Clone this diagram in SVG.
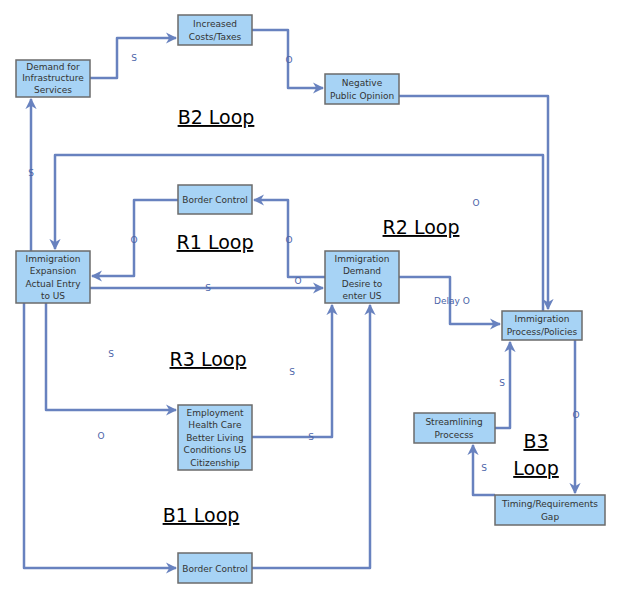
<svg xmlns="http://www.w3.org/2000/svg" width="623" height="600" viewBox="0 0 623 600">
<style>
.n rect{fill:#a7d3f5;stroke:#6b6b6b;stroke-width:1.5}
.n text{font-family:"DejaVu Sans",sans-serif;font-size:9px;fill:#333;text-anchor:middle}
.c path{fill:none;stroke:#6882bf;stroke-width:2.5;stroke-linejoin:round}
.l{font-family:"DejaVu Sans",sans-serif;font-size:9px;fill:#4a64a8;text-anchor:middle}
.loop{font-family:"DejaVu Sans",sans-serif;font-size:19px;fill:#000;text-anchor:middle;text-decoration:underline}
</style>
<defs><marker id="a" viewBox="0 0 10 10" refX="9" refY="5" markerWidth="4.5" markerHeight="4.5" orient="auto" markerUnits="strokeWidth"><path d="M0,0L10,5L0,10L3,5z" fill="#6882bf"/></marker></defs>
<rect width="623" height="600" fill="#fff"/>
<g class="c" marker-end="url(#a)">
<path d="M90,78H117V38H176" marker-end="url(#a)"/>
<path d="M252,30H288V88H323" marker-end="url(#a)"/>
<path d="M399,96H548V309" marker-end="url(#a)"/>
<path d="M543,311V155H55V249" marker-end="url(#a)"/>
<path d="M31,251V99" marker-end="url(#a)"/>
<path d="M178,200H134V276H92" marker-end="url(#a)"/>
<path d="M325,277H288V200H254" marker-end="url(#a)"/>
<path d="M90,288H323" marker-end="url(#a)"/>
<path d="M399,277H450V324H500" marker-end="url(#a)"/>
<path d="M575,340V493" marker-end="url(#a)"/>
<path d="M495,428H510V342" marker-end="url(#a)"/>
<path d="M495,495H473V445" marker-end="url(#a)"/>
<path d="M46,303V410H176" marker-end="url(#a)"/>
<path d="M252,437H332V305" marker-end="url(#a)"/>
<path d="M24,303V568H176" marker-end="url(#a)"/>
<path d="M252,568H370V305" marker-end="url(#a)"/>
</g>
<g id="labels">
<text class="l" x="134" y="61">S</text>
<text class="l" x="289" y="63">O</text>
<text class="l" x="31" y="176">S</text>
<text class="l" x="134" y="243">O</text>
<text class="l" x="289" y="243">O</text>
<text class="l" x="298" y="284">O</text>
<text class="l" x="208" y="291">S</text>
<text class="l" x="452" y="304">Delay O</text>
<text class="l" x="576" y="418">O</text>
<text class="l" x="502" y="386">S</text>
<text class="l" x="484" y="471">S</text>
<text class="l" x="311" y="440">S</text>
<text class="l" x="111" y="357">S</text>
<text class="l" x="292" y="375">S</text>
<text class="l" x="101" y="439">O</text>
<text class="l" x="476" y="206">O</text>
<text class="loop" x="216" y="124">B2 Loop</text>
<text class="loop" x="215" y="249">R1 Loop</text>
<text class="loop" x="421" y="234">R2 Loop</text>
<text class="loop" x="208" y="366">R3 Loop</text>
<text class="loop" x="201" y="522">B1 Loop</text>
<text class="loop" x="536" y="448">B3</text>
<text class="loop" x="536" y="475">Loop</text>
</g>
<g id="n1" class="n"><rect x="16" y="60" width="74" height="37"/><text x="53" y="70">Demand for</text><text x="53" y="81">Infrastructure</text><text x="53" y="93">Services</text></g>
<g id="n2" class="n"><rect x="178" y="15" width="74" height="30"/><text x="215" y="27">Increased</text><text x="215" y="40">Costs/Taxes</text></g>
<g id="n3" class="n"><rect x="325" y="74" width="74" height="30"/><text x="362" y="86">Negative</text><text x="362" y="99">Public Opinion</text></g>
<g id="n4" class="n"><rect x="178" y="185" width="74" height="29"/><text x="215" y="203">Border Control</text></g>
<g id="n5" class="n"><rect x="16" y="251" width="74" height="52"/><text x="53" y="262">Immigration</text><text x="53" y="274">Expansion</text><text x="53" y="287">Actual Entry</text><text x="53" y="299">to US</text></g>
<g id="n6" class="n"><rect x="325" y="251" width="74" height="52"/><text x="362" y="262">Immigration</text><text x="362" y="274">Demand</text><text x="362" y="287">Desire to</text><text x="362" y="299">enter US</text></g>
<g id="n7" class="n"><rect x="502" y="311" width="80" height="29"/><text x="542" y="322">Immigration</text><text x="542" y="335">Process/Policies</text></g>
<g id="n8" class="n"><rect x="414" y="413" width="81" height="30"/><text x="454" y="425">Streamlining</text><text x="454" y="438">Procecss</text></g>
<g id="n9" class="n"><rect x="178" y="405" width="74" height="65"/><text x="215" y="416">Employment</text><text x="215" y="428">Health Care</text><text x="215" y="441">Better Living</text><text x="215" y="453">Conditions US</text><text x="215" y="466">Citizenship</text></g>
<g id="n10" class="n"><rect x="495" y="495" width="110" height="30"/><text x="550" y="507">Timing/Requirements</text><text x="550" y="520">Gap</text></g>
<g id="n11" class="n"><rect x="178" y="553" width="74" height="30"/><text x="215" y="572">Border Control</text></g>
</svg>
